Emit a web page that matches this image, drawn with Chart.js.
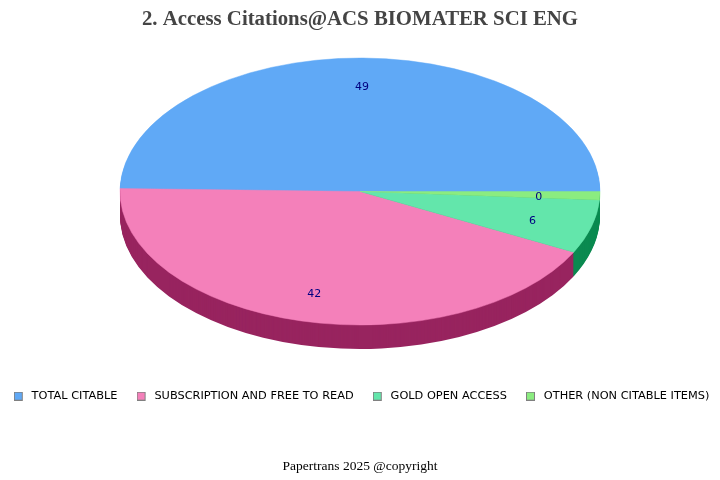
<!DOCTYPE html>
<html>
<head>
<meta charset="utf-8">
<style>html,body{margin:0;padding:0;background:#fff;overflow:hidden;width:720px;height:480px}canvas{display:block;margin-left:-20px}</style>
<script src="https://cdn.jsdelivr.net/npm/chart.js@4"></script>
</head>
<body>
<canvas id="c" width="760" height="480"></canvas>
<script>
const categories = ['TOTAL CITABLE', 'SUBSCRIPTION AND FREE TO READ', 'GOLD OPEN ACCESS', 'OTHER (NON CITABLE ITEMS)'];
const values = [49.6, 42.8, 6.5, 1.0];
const valueLabels = ['49', '42', '6', '0'];
const topColors = ['#60a9f6', '#f480ba', '#63e6ab', '#8bec80'];
const sideColors = ['#60a9f6', '#98245f', '#0a8a50', '#0a8a50'];
const chartTitle = '2. Access Citations@ACS BIOMATER SCI ENG';
const footerText = 'Papertrans 2025 @copyright';

const CENTER_X = 380, CENTER_Y = 191.5, RADIUS = 240, RADIUS_Y = 133.5, DEPTH = 24;

function swatch(color) {
  const s = document.createElement('canvas');
  s.width = 12; s.height = 9;
  const g = s.getContext('2d');
  g.fillStyle = color; g.fillRect(0, 0, 9, 9);
  g.strokeStyle = '#808080'; g.lineWidth = 1; g.strokeRect(0.5, 0.5, 8, 8);
  return s;
}

function place(ctx, arc, shift) {
  ctx.translate(CENTER_X, CENTER_Y + shift);
  ctx.scale(1, -RADIUS_Y / RADIUS);
  ctx.translate(-arc.x, -arc.y);
}

const tiltedPie = {
  id: 'tiltedPie',
  afterLayout(chart) {
    chart.legend.left += 1.5;
    chart.legend.right += 1.5;
  },
  beforeDatasetsDraw(chart) {
    const ctx = chart.ctx, arcs = chart.getDatasetMeta(0).data;
    for (let s = DEPTH; s >= 1; s--) {
      arcs.forEach((arc, i) => {
        const side = Object.create(arc);
        side.options = Object.assign({}, arc.options, {backgroundColor: sideColors[i], borderWidth: 0});
        ctx.save();
        place(ctx, arc, s);
        side.draw(ctx);
        ctx.restore();
      });
    }
    ctx.save();
    place(ctx, arcs[0], 0);
  },
  afterDatasetsDraw(chart) {
    const ctx = chart.ctx, arcs = chart.getDatasetMeta(0).data;
    ctx.restore();
    ctx.save();
    ctx.font = '11px "DejaVu Sans"';
    ctx.fillStyle = '#000080';
    ctx.textAlign = 'center';
    ctx.textBaseline = 'middle';
    arcs.forEach((arc, i) => {
      const mid = (arc.startAngle + arc.endAngle) / 2;
      const cos = Math.cos(mid), sin = Math.sin(mid);
      const x = CENTER_X + (cos > 0 ? 0.745 : 0.78) * RADIUS * cos;
      const y = sin > 0
        ? CENTER_Y - 0.79 * RADIUS_Y * sin + 1
        : CENTER_Y - 0.78 * RADIUS_Y * sin + 2;
      ctx.fillText(valueLabels[i], x, y);
    });
    ctx.restore();
  }
};

new Chart(document.getElementById('c'), {
  type: 'pie',
  data: {
    labels: categories,
    datasets: [{
      data: values,
      backgroundColor: topColors,
      borderColor: topColors,
      borderWidth: 0.6,
      radius: RADIUS,
      rotation: 90,
      clip: false
    }]
  },
  options: {
    responsive: false,
    animation: false,
    devicePixelRatio: 1,
    layout: {padding: 0},
    plugins: {
      tooltip: {enabled: false},
      title: {
        display: true,
        text: chartTitle,
        color: '#444444',
        font: {family: '"Liberation Serif"', size: 20.8, weight: 'bold'},
        padding: {top: 7, bottom: 6}
      },
      subtitle: {
        display: true,
        position: 'bottom',
        text: footerText,
        color: '#000000',
        font: {family: '"Liberation Serif"', size: 13.5, weight: 'normal'},
        padding: {top: 47, bottom: 5}
      },
      legend: {
        position: 'bottom',
        labels: {
          color: '#000000',
          font: {family: '"DejaVu Sans"', size: 11.34},
          boxWidth: 12.3,
          boxHeight: 9,
          padding: 19,
          usePointStyle: true,
          pointStyleWidth: 12.3,
          generateLabels() {
            return categories.map((t, i) => ({
              text: t,
              fillStyle: topColors[i],
              strokeStyle: '#808080',
              lineWidth: 1,
              pointStyle: swatch(topColors[i]),
              hidden: false,
              index: i
            }));
          }
        }
      }
    }
  },
  plugins: [tiltedPie]
});
</script>
</body>
</html>
